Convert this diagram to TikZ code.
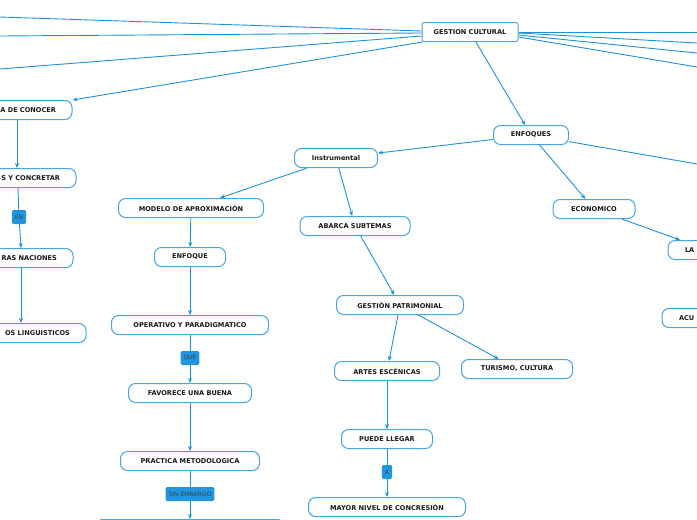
\documentclass[tikz,border=0pt]{standalone}
\usepackage{fontspec}
\setmainfont{DejaVu Sans}
\usetikzlibrary{arrows.meta}
\definecolor{ln}{RGB}{28,146,221}
\definecolor{bd}{RGB}{70,165,230}
\definecolor{lab}{RGB}{30,150,225}
\begin{document}
\begin{tikzpicture}[x=1pt,y=-1pt,
  box/.style={draw=bd,line width=1pt,rounded corners=7pt,fill=white,minimum height=19pt,inner sep=0pt,font=\fontsize{6.6}{7}\selectfont\bfseries,text=black!90},
  root/.style={box,rounded corners=2pt},
  cut/.style={box,minimum width=160pt,text width=128pt,align=right},
  lbl/.style={fill=lab,rounded corners=1.5pt,inner sep=3pt,font=\fontsize{6}{6}\selectfont,text=black!75,minimum height=14pt},
  e/.style={draw=ln,line width=0.9pt},
  a/.style={e,-{Stealth[length=5pt,width=4pt]}}]
\useasboundingbox (0,0) rectangle (697,520);
\node[root,minimum width=96pt] (gc) at (470,32) {GESTION CULTURAL};
\node[cut] (con) at (-8,110) {A DE CONOCER};
\node[cut] (conc) at (-4,178) {S Y CONCRETAR};
\node[cut] (nac) at (-7,258) {RAS NACIONES};
\node[cut] (lin) at (6,333) {OS LINGUISTICOS};
\node[lbl] (en) at (19,217) {EN};
\node[box,minimum width=75pt] (enf) at (531,135) {ENFOQUES};
\node[box,minimum width=83pt] (ins) at (336,158) {Instrumental};
\node[box,minimum width=145pt] (mod) at (191,208) {MODELO DE APROXIMACIÓN};
\node[box,minimum width=71pt] (enfq) at (190,257) {ENFOQUE};
\node[box,minimum width=157pt] (op) at (190,325) {OPERATIVO Y PARADIGMATICO};
\node[lbl] (que) at (190,358) {QUE};
\node[box,minimum width=123pt] (fav) at (190,393) {FAVORECE UNA BUENA};
\node[box,minimum width=139pt] (pra) at (190,461) {PRACTICA METODOLOGICA};
\node[lbl] (sin) at (190,494) {SIN EMBARGO};
\node[box,minimum width=189pt] (bot) at (190,529) {};
\node[box,minimum width=110pt] (aba) at (355,226) {ABARCA SUBTEMAS};
\node[box,minimum width=127pt] (gp) at (400,305) {GESTIÓN PATRIMONIAL};
\node[box,minimum width=105pt] (art) at (387,371) {ARTES ESCÉNICAS};
\node[box,minimum width=111pt] (tur) at (517,369) {TURISMO, CULTURA};
\node[box,minimum width=91pt] (pue) at (387,439) {PUEDE LLEGAR};
\node[lbl] (al) at (387,472) {A};
\node[box,minimum width=157pt] (may) at (387,507) {MAYOR NIVEL DE CONCRESIÓN};
\node[box,minimum width=82pt] (eco) at (594,209) {ECONOMICO};
\node[box,minimum width=80pt,text width=46pt,align=left] (la) at (708,250) {LA};
\node[box,minimum width=80pt,text width=46pt,align=left] (acu) at (702,318) {ACU};
\coordinate (l1) at (0,17); \coordinate (l2) at (0,36); \coordinate (l3) at (0,69);
\coordinate (r1) at (697,32); \coordinate (r2) at (697,43); \coordinate (r3) at (697,53); \coordinate (r4) at (697,67);
\coordinate (r5) at (697,164);
\draw[e] (gc.west)++(0,-1) -- (l1);
\draw[e] (gc.west)++(0,1) -- (l2);
\draw[e] (gc.west)++(0,4) -- (l3);
\draw[e] (gc.east)++(0,0) -- (r1);
\draw[e] (gc.east)++(0,1) -- (r2);
\draw[e] (gc.east)++(0,3) -- (r3);
\draw[e] (gc.east)++(0,5) -- (r4);
\draw[a] (gc.south west)++(1,0) -- (con.north east);
\draw[a] (gc) -- (enf);
\draw[e] (enf) -- (r5);
\draw[a] (enf) -- (ins);
\draw[a] (enf) -- (eco);
\draw[a] (eco) -- (la);
\draw[a] (17,120) -- (17,168);
\draw[e] (18,188) -- (en);
\draw[a] (en) -- (21,248);
\draw[a] (21,268) -- (21,323);
\draw[a] (ins) -- (mod);
\draw[a] (ins) -- (aba);
\draw[a] (mod) -- (enfq);
\draw[a] (enfq) -- (op);
\draw[e] (op) -- (que);
\draw[a] (que) -- (fav);
\draw[a] (fav) -- (pra);
\draw[e] (pra) -- (sin);
\draw[a] (sin) -- (bot);
\draw[a] (aba) -- (gp);
\draw[a] (gp) -- (art);
\draw[a] (gp) -- (tur);
\draw[a] (art) -- (pue);
\draw[e] (pue) -- (al);
\draw[a] (al) -- (may);
\end{tikzpicture}
\end{document}
